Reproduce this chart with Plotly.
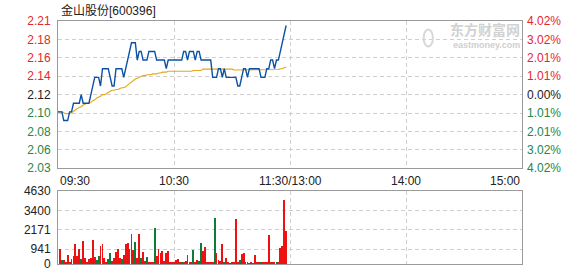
import plotly.graph_objects as go

# ---------------- data ----------------
title_text = "金山股份[600396]"
prev_close = 2.12

minutes = list(range(119))  # 09:30 .. 11:28

price = [
    2.10, 2.10, 2.10, 2.09, 2.09, 2.09, 2.10, 2.10, 2.11, 2.11,
    2.11, 2.11, 2.12, 2.11, 2.11, 2.11, 2.11, 2.12, 2.13, 2.14,
    2.14, 2.14, 2.13, 2.15, 2.15, 2.15, 2.15, 2.14, 2.13, 2.13,
    2.15, 2.15, 2.15, 2.15, 2.14, 2.15, 2.16, 2.17, 2.18, 2.18,
    2.18, 2.16, 2.17, 2.17, 2.16, 2.16, 2.16, 2.17, 2.17, 2.17,
    2.17, 2.16, 2.16, 2.16, 2.16, 2.16, 2.15, 2.16, 2.16, 2.16,
    2.16, 2.16, 2.16, 2.16, 2.16, 2.17, 2.17, 2.16, 2.17, 2.17,
    2.17, 2.16, 2.17, 2.17, 2.16, 2.16, 2.16, 2.16, 2.16, 2.16,
    2.14, 2.14, 2.14, 2.15, 2.15, 2.14, 2.15, 2.14, 2.14, 2.14,
    2.14, 2.14, 2.14, 2.13, 2.13, 2.14, 2.15, 2.15, 2.14, 2.15,
    2.15, 2.15, 2.15, 2.15, 2.15, 2.14, 2.14, 2.14, 2.15, 2.15,
    2.16, 2.16, 2.15, 2.16, 2.16, 2.17, 2.18, 2.19, 2.20,
]

avg_price = [
    2.100, 2.100, 2.100, 2.099, 2.098, 2.098, 2.098, 2.099, 2.101, 2.103,
    2.104, 2.105, 2.106, 2.108, 2.109, 2.110, 2.110, 2.111, 2.113, 2.114,
    2.116, 2.117, 2.118, 2.120, 2.120, 2.121, 2.123, 2.124, 2.125, 2.125,
    2.126, 2.126, 2.127, 2.128, 2.128, 2.129, 2.131, 2.133, 2.135, 2.137,
    2.138, 2.139, 2.140, 2.141, 2.142, 2.142, 2.143, 2.143, 2.143, 2.144,
    2.144, 2.144, 2.145, 2.145, 2.146, 2.146, 2.146, 2.147, 2.147, 2.147,
    2.147, 2.147, 2.147, 2.147, 2.147, 2.147, 2.147, 2.147, 2.147, 2.147,
    2.148, 2.148, 2.148, 2.148, 2.148, 2.1495, 2.1495, 2.1495, 2.1495, 2.1495,
    2.1495, 2.1495, 2.1495, 2.1495, 2.1495, 2.1495, 2.1495, 2.1495, 2.1495, 2.1495,
    2.1495, 2.1485, 2.1485, 2.1485, 2.1485, 2.1485, 2.1485, 2.1485, 2.1485, 2.1485,
    2.1485, 2.1485, 2.1485, 2.1485, 2.1485, 2.1485, 2.1485, 2.1485, 2.1485, 2.1485,
    2.1485, 2.1485, 2.1485, 2.1485, 2.149, 2.150, 2.150, 2.151, 2.152,
]

volume = [
    0, 925, 247, 247, 103, 555, 144, 309, 494, 1234,
    494, 925, 288, 1481, 391, 123, 288, 391, 1543, 453,
    247, 494, 1131, 1255, 391, 144, 309, 700, 206, 391,
    741, 946, 391, 309, 576, 1234, 1358, 925, 1872, 864,
    1419, 370, 1872, 391, 741, 185, 432, 144, 123, 123,
    2304, 473, 925, 720, 823, 185, 679, 802, 144, 144,
    144, 226, 309, 144, 144, 144, 206, 555, 144, 123,
    864, 144, 226, 185, 1296, 843, 1090, 103, 103, 103,
    144, 2900, 679, 226, 165, 1234, 123, 350, 60, 40,
    123, 82, 2839, 144, 226, 617, 679, 123, 123, 40,
    82, 40, 535, 123, 82, 123, 82, 144, 82, 1851,
    82, 82, 82, 82, 82, 987, 1111, 4073, 2119,
]

# 'g' = falling minute (green bar), 'r' = rising minute (red bar)
vol_dir = [
    'r', 'r', 'g', 'r', 'r', 'r', 'r', 'r', 'r', 'r',
    'r', 'r', 'g', 'r', 'r', 'r', 'r', 'r', 'r', 'r',
    'g', 'g', 'r', 'r', 'r', 'r', 'g', 'g', 'r', 'r',
    'r', 'r', 'r', 'g', 'r', 'r', 'r', 'r', 'r', 'r',
    'g', 'r', 'r', 'g', 'r', 'r', 'g', 'r', 'r', 'r',
    'g', 'r', 'r', 'r', 'r', 'r', 'r', 'r', 'r', 'r',
    'r', 'r', 'r', 'r', 'g', 'r', 'r', 'r', 'r', 'r',
    'g', 'r', 'r', 'g', 'g', 'r', 'r', 'r', 'r', 'r',
    'r', 'g', 'r', 'r', 'r', 'r', 'g', 'r', 'r', 'r',
    'r', 'r', 'r', 'r', 'g', 'r', 'r', 'r', 'r', 'r',
    'r', 'r', 'r', 'r', 'r', 'g', 'r', 'r', 'r', 'r',
    'r', 'r', 'r', 'g', 'r', 'r', 'r', 'r', 'r',
]

price_tick_labels = ["2.03", "2.06", "2.08", "2.10", "2.12", "2.14", "2.16", "2.18", "2.21"]
pct_tick_labels = ["4.02%", "3.02%", "2.01%", "1.01%", "0.00%", "1.01%", "2.01%", "3.02%", "4.02%"]
vol_tick_vals = [0, 941, 2171, 3400, 4630]
vol_tick_labels = ["0", "941", "2171", "3400", "4630"]
time_ticks = [0, 60, 120, 180, 240]
time_labels = ["09:30", "10:30", "11:30/13:00", "14:00", "15:00"]
max_pct = 0.0402

# ---------------- styles ----------------
RED = "#e8262d"
GREEN = "#23864a"
DARK = "#222222"
BAR_RED = "#ee1111"
BAR_GREEN = "#0f7a3a"
BLUE = "#0b52a6"
ORANGE = "#e6a519"
AXIS = "#9a9a9a"
GRID = "#cfcfcf"
FONT = "Liberation Sans, Noto Sans CJK SC, sans-serif"

lo = prev_close * (1 - max_pct)
hi = prev_close * (1 + max_pct)
ptick_vals = [lo + i * (hi - lo) / (len(price_tick_labels) - 1) for i in range(len(price_tick_labels))]


def colored(labels):
    out = []
    n = len(labels)
    mid = n // 2
    for i, t in enumerate(labels):
        c = GREEN if i < mid else (DARK if i == mid else RED)
        out.append(f'<span style="color:{c}">{t}</span>')
    return out


fig = go.Figure()

fig.add_trace(go.Scatter(x=minutes, y=avg_price, mode="lines",
                         line=dict(color=ORANGE, width=1.1),
                         xaxis="x", yaxis="y", hoverinfo="skip"))
fig.add_trace(go.Scatter(x=minutes, y=price, mode="lines",
                         line=dict(color=BLUE, width=1.4),
                         xaxis="x", yaxis="y", hoverinfo="skip"))
# anchor trace for right-side percentage axis
fig.add_trace(go.Scatter(x=[minutes[0]], y=[prev_close], mode="markers",
                         marker=dict(opacity=0), xaxis="x", yaxis="y3",
                         hoverinfo="skip"))

fig.add_trace(go.Bar(x=minutes, y=volume,
                     marker=dict(color=[BAR_GREEN if d == 'g' else BAR_RED for d in vol_dir],
                                 line=dict(width=0)),
                     width=0.45, xaxis="x2", yaxis="y2", hoverinfo="skip"))

grid_dash = "4px,3px"
xcommon = dict(range=[0, 240], tickvals=time_ticks[1:-1], showticklabels=False,
               showgrid=True, gridcolor=GRID, griddash=grid_dash, gridwidth=1,
               showline=True, mirror=True, linecolor=AXIS, linewidth=1,
               zeroline=False, ticks="", fixedrange=True)

fig.update_layout(
    width=578, height=276,
    margin=dict(l=58, r=56, t=21, b=5),
    paper_bgcolor="white", plot_bgcolor="white",
    showlegend=False, hovermode=False, bargap=0,
    font=dict(family=FONT, size=12, color=DARK),
    xaxis=dict(domain=[0, 1], anchor="y", **xcommon),
    xaxis2=dict(domain=[0, 1], anchor="y2", matches="x", **xcommon),
    yaxis=dict(domain=[0.394, 1], anchor="x", range=[lo, hi],
               tickvals=ptick_vals, ticktext=colored(price_tick_labels),
               showgrid=True, gridcolor=GRID, griddash=grid_dash,
               showline=True, mirror=True, linecolor=AXIS, linewidth=1,
               zeroline=False, ticks="", ticklabelstandoff=4),
    yaxis3=dict(overlaying="y", side="right", anchor="x", range=[lo, hi],
                tickvals=ptick_vals, ticktext=colored(pct_tick_labels),
                showgrid=False, showline=False, zeroline=False, ticks="",
                ticklabelstandoff=4),
    yaxis2=dict(domain=[0, 0.3], anchor="x2", range=[0, vol_tick_vals[-1]],
                tickvals=vol_tick_vals, ticktext=vol_tick_labels,
                showgrid=True, gridcolor=GRID, griddash=grid_dash,
                showline=True, mirror=True, linecolor=AXIS, linewidth=1,
                zeroline=False, ticks="", ticklabelstandoff=4),
)

annotations = []
for t, lab in zip(time_ticks, time_labels):
    anchor = "left" if t == time_ticks[0] else ("right" if t == time_ticks[-1] else "center")
    annotations.append(dict(x=t, xref="x", y=0.34, yref="paper", text=lab,
                            showarrow=False, xanchor=anchor, yanchor="middle",
                            font=dict(family=FONT, size=12, color=DARK)))
annotations.append(dict(x=0, xref="paper", y=1.044, yref="paper", text=title_text,
                        showarrow=False, xanchor="left", yanchor="middle",
                        font=dict(family=FONT, size=12, color=DARK), xshift=1))
# watermark
annotations.append(dict(x=1, xref="paper", y=0.966, yref="paper", text="<b>东方财富网</b>",
                        showarrow=False, xanchor="right", yanchor="middle",
                        font=dict(family="Noto Sans CJK SC", size=14, color="#d2d2d2")))
annotations.append(dict(x=1, xref="paper", y=0.9, yref="paper", text="<b>eastmoney.com</b>",
                        showarrow=False, xanchor="right", yanchor="middle",
                        font=dict(family=FONT, size=9, color="#cfcfcf")))
fig.update_layout(annotations=annotations)

fig.add_shape(type="circle", xref="paper", yref="paper",
              x0=0.788, x1=0.808, y0=0.895, y1=0.965,
              line=dict(color="#d8d8d8", width=2))

fig.write_html("out.html")
